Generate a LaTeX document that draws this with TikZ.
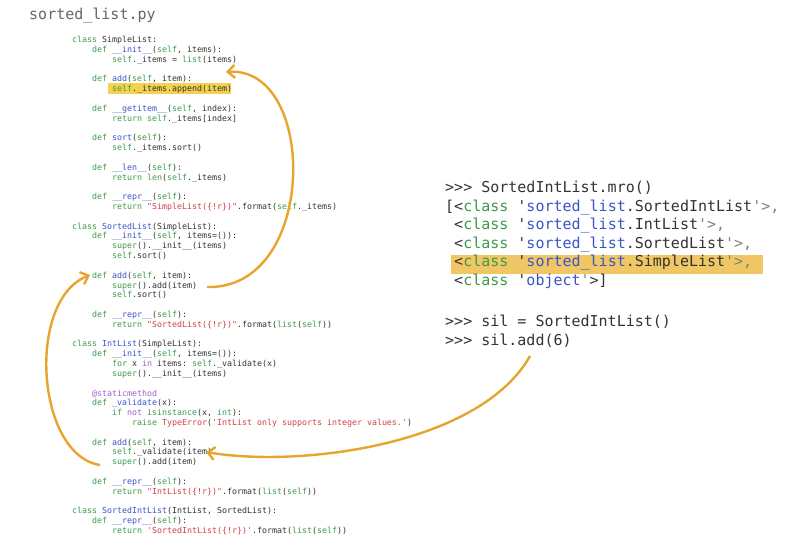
\documentclass[tikz,border=0pt]{standalone}
\usepackage{fontspec}
\setmonofont{DejaVu Sans Mono}
\usetikzlibrary{arrows.meta}
\definecolor{kw}{HTML}{3E9A4A}
\definecolor{fn}{HTML}{3A55C8}
\definecolor{st}{HTML}{D0404A}
\definecolor{pu}{HTML}{A65BC8}
\definecolor{tx}{HTML}{333333}
\definecolor{arr}{HTML}{E8A52E}
\definecolor{hlA}{HTML}{F4D24E}
\definecolor{hlB}{HTML}{F0C764}
\newcommand\ck[1]{\textcolor{kw}{#1}}
\newcommand\cf[1]{\textcolor{fn}{#1}}
\newcommand\cs[1]{\textcolor{st}{#1}}
\newcommand\cp[1]{\textcolor{pu}{#1}}
\newcommand\cg[1]{\textcolor{gray}{#1}}
\newcommand\ind{\phantom{xxxx}}
\tikzset{
  flow/.style={draw=arr, line width=2.4pt, -{Straight Barb[length=7pt,width=13pt]}},
}
\begin{document}
\begin{tikzpicture}[x=1pt,y=-1pt]
\useasboundingbox (0,0) rectangle (800,540);
\fill[white] (0,0) rectangle (800,540);
\fill[hlA] (108,83) rectangle (231,94);
\fill[hlB] (451,255) rectangle (763,274);
\node[anchor=base west, inner sep=0, text=gray!80!black, font=\ttfamily\fontsize{15}{18}\selectfont] (title) at (29,20) {sorted\_list.py};
\node[anchor=north west, inner sep=0, align=left, text=tx, font=\ttfamily\fontsize{8.3}{9.82}\selectfont] (code) at (72,36) {%
\ck{class} SimpleList:\\
\ind\ck{def} \cf{\_\_init\_\_}(\ck{self}, items):\\
\ind\ind\ck{self}.\_items = \ck{list}(items)\\
\mbox{}\\
\ind\ck{def} \cf{add}(\ck{self}, item):\\
\ind\ind\ck{self}.\_items.append(item)\\
\mbox{}\\
\ind\ck{def} \cf{\_\_getitem\_\_}(\ck{self}, index):\\
\ind\ind\ck{return} \ck{self}.\_items[index]\\
\mbox{}\\
\ind\ck{def} \cf{sort}(\ck{self}):\\
\ind\ind\ck{self}.\_items.sort()\\
\mbox{}\\
\ind\ck{def} \cf{\_\_len\_\_}(\ck{self}):\\
\ind\ind\ck{return} \ck{len}(\ck{self}.\_items)\\
\mbox{}\\
\ind\ck{def} \cf{\_\_repr\_\_}(\ck{self}):\\
\ind\ind\ck{return} \cs{"SimpleList(\{!r\})"}.format(\ck{self}.\_items)\\
\mbox{}\\
\ck{class} \cf{SortedList}(SimpleList):\\
\ind\ck{def} \cf{\_\_init\_\_}(\ck{self}, items=()):\\
\ind\ind\ck{super}().\_\_init\_\_(items)\\
\ind\ind\ck{self}.sort()\\
\mbox{}\\
\ind\ck{def} \cf{add}(\ck{self}, item):\\
\ind\ind\ck{super}().add(item)\\
\ind\ind\ck{self}.sort()\\
\mbox{}\\
\ind\ck{def} \cf{\_\_repr\_\_}(\ck{self}):\\
\ind\ind\ck{return} \cs{"SortedList(\{!r\})"}.format(\ck{list}(\ck{self}))\\
\mbox{}\\
\ck{class} \cf{IntList}(SimpleList):\\
\ind\ck{def} \cf{\_\_init\_\_}(\ck{self}, items=()):\\
\ind\ind\ck{for} x \cp{in} items: \ck{self}.\_validate(x)\\
\ind\ind\ck{super}().\_\_init\_\_(items)\\
\mbox{}\\
\ind\cp{@staticmethod}\\
\ind\ck{def} \cf{\_validate}(x):\\
\ind\ind\ck{if} \cp{not} \ck{isinstance}(x, \ck{int}):\\
\ind\ind\ind\ck{raise} \cs{TypeError}(\cs{'IntList only supports integer values.'})\\
\mbox{}\\
\ind\ck{def} \cf{add}(\ck{self}, item):\\
\ind\ind\ck{self}.\_validate(item)\\
\ind\ind\ck{super}().add(item)\\
\mbox{}\\
\ind\ck{def} \cf{\_\_repr\_\_}(\ck{self}):\\
\ind\ind\ck{return} \cs{"IntList(\{!r\})"}.format(\ck{list}(\ck{self}))\\
\mbox{}\\
\ck{class} \cf{SortedIntList}(IntList, SortedList):\\
\ind\ck{def} \cf{\_\_repr\_\_}(\ck{self}):\\
\ind\ind\ck{return} \cs{'SortedIntList(\{!r\})'}.format(\ck{list}(\ck{self}))};
\node[anchor=north west, inner sep=0, align=left, text=tx, font=\ttfamily\fontsize{15}{18.6}\selectfont] (repl) at (445,181) {%
>{}>{}> SortedIntList.mro()\\{}%
[<\ck{class} '\cf{sorted\_list}.SortedIntList\cg{'>,}\\{}%
\ <\ck{class} '\cf{sorted\_list}.IntList\cg{'>,}\\{}%
\ <\ck{class} '\cf{sorted\_list}.SortedList\cg{'>,}\\{}%
\ <\ck{class} '\cf{sorted\_list}.SimpleList\cg{'>,}\\{}%
\ <\ck{class} '\cf{object}\cg{'}>]\\[4pt]%
\mbox{}\\{}%
>{}>{}> sil = SortedIntList()\\{}%
>{}>{}> sil.add(6)};
\coordinate (s1) at (207,287);
\coordinate (e1) at (226,72);
\coordinate (s2) at (100,465);
\coordinate (e2) at (90,275);
\coordinate (s3) at (530,356);
\coordinate (e3) at (206,452);
\draw[flow] (s1) .. controls (318,290) and (318,66) .. (e1);
\draw[flow] (s2) .. controls (36,455) and (26,300) .. (e2);
\draw[flow] (s3) .. controls (480,445) and (300,468) .. (e3);
\end{tikzpicture}
\end{document}
